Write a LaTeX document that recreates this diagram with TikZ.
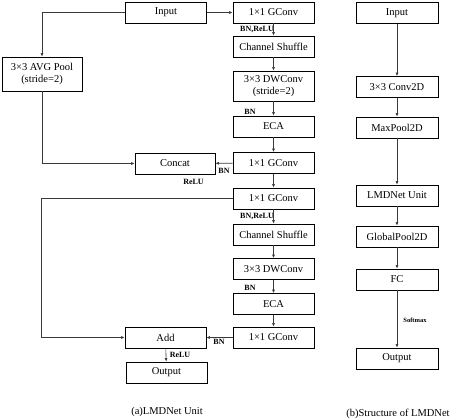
\documentclass[tikz,border=0pt]{standalone}
\usepackage{fontspec}
\setmainfont{Liberation Serif}
\usetikzlibrary{arrows.meta,positioning}
\definecolor{netline}{HTML}{3A3A3A}

\begin{document}
\begin{tikzpicture}[x=1pt,y=-1pt,
    blk/.style={draw=black,line width=0.8pt,minimum width=81pt,minimum height=21pt,
      inner sep=1pt,align=center,font=\fontsize{10.5}{12}\selectfont},
    arr/.style={draw=netline,line width=0.6pt,-{Latex[length=3.5pt,width=3pt]}},
    lbl/.style={font=\fontsize{8}{9}\selectfont\bfseries,inner sep=0.5pt},
    captxt/.style={font=\fontsize{10.5}{12}\selectfont}]

  \useasboundingbox (0,0) rectangle (456,420);

  % ---- (a) LMDNet unit: left branch --------------------------
  \node[blk] (in)     at (166,12.5)  {Input};
  \node[blk,minimum width=80pt,minimum height=34pt] (pool) at (42,74)
    {3×3 AVG Pool\\(stride=2)};
  \node[blk,minimum width=80pt] (concat) at (175,163.5) {Concat};
  \node[blk] (add)    at (165.5,337.5) {Add};
  \node[blk] (out)    at (166.5,372.5) {Output};

  % ---- (a) LMDNet unit: main column --------------------------
  \node[blk] (g1)    at (273.5,12.5)  {1×1 GConv};
  \node[blk] (shuf1) at (273.5,46.5)  {Channel Shuffle};
  \node[blk,minimum height=30pt] (dw1) at (273.5,86)
    {3×3 DWConv\\(stride=2)};
  \node[blk] (eca1)  at (273.5,126.5) {ECA};
  \node[blk] (g2)    at (273.5,163)   {1×1 GConv};
  \node[blk] (g3)    at (273.5,198.5) {1×1 GConv};
  \node[blk] (shuf2) at (273.5,234.5) {Channel Shuffle};
  \node[blk] (dw2)   at (273.5,269)   {3×3 DWConv};
  \node[blk] (eca2)  at (273.5,304)   {ECA};
  \node[blk] (g4)    at (273.5,337.5) {1×1 GConv};

  % Connectors
  \draw[arr] (in) -- (g1);
  \draw[arr] (in.west) -| (pool.north);
  \draw[arr] (pool.south) |- (concat.west);
  \foreach \a/\b in {g1/shuf1,shuf1/dw1,dw1/eca1,eca1/g2,g2/g3,
                     g3/shuf2,shuf2/dw2,dw2/eca2,eca2/g4}
    \draw[arr] (\a) -- (\b);
  \draw[arr] (g2) -- (concat);
  \coordinate (skip) at (41,198.5);
  \draw[arr] (g3.west) -- (skip) |- (add.west);
  \draw[arr] (g4) -- (add);
  \draw[arr] (add) -- (out);

  % Labels on the connectors
  \node[lbl,anchor=east] (l1) at (274.5,29.5)  {BN,ReLU};
  \node[lbl] (l2) at (250,112)  {BN};
  \node[lbl] (l3) at (224,170.5) {BN};
  \node[lbl] (l4) at (193.5,182)  {ReLU};
  \node[lbl,anchor=east] (l5) at (274.5,216.5) {BN,ReLU};
  \node[lbl] (l6) at (250,288)  {BN};
  \node[lbl] (l7) at (219,342)  {BN};
  \node[lbl] (l8) at (180,355)  {ReLU};

  \node[captxt] (capa) at (167,412) {(a)LMDNet Unit};

  % ---- (b) Structure of LMDNet -------------------------------
  \node[blk,minimum width=82pt] (rin)   at (397,13)    {Input};
  \node[blk,minimum width=82pt] (rconv) at (397,87)    {3×3 Conv2D};
  \node[blk,minimum width=82pt] (rmax)  at (397,127.5) {MaxPool2D};
  \node[blk,minimum width=82pt] (runit) at (397,195.5) {LMDNet Unit};
  \node[blk,minimum width=82pt] (rgap)  at (397,236.5) {GlobalPool2D};
  \node[blk,minimum width=82pt] (rfc)   at (397,279.5) {FC};
  \node[blk,minimum width=82pt] (rout)  at (397,358.5) {Output};

  \foreach \a/\b in {rin/rconv,rconv/rmax,rmax/runit,runit/rgap,rgap/rfc,rfc/rout}
    \draw[arr] (\a) -- (\b);
  \node[lbl,font=\fontsize{6.5}{7}\selectfont\bfseries] (l9) at (415,320) {Softmax};

  \node[captxt] (capb) at (398,414) {(b)Structure of LMDNet};

\end{tikzpicture}
\end{document}
